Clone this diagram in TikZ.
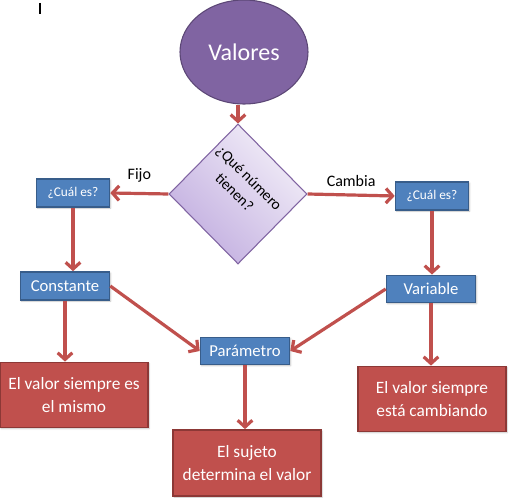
\documentclass[tikz,border=0pt]{standalone}
\usepackage{fontspec}
\setmainfont{Carlito}
\usepackage{xcolor}
\usetikzlibrary{shapes.geometric,arrows.meta,shadows.blur}
\definecolor{valfill}{HTML}{8064A2}
\definecolor{valline}{HTML}{5C4776}
\definecolor{dialight}{HTML}{F2EEF8}
\definecolor{diadark}{HTML}{C2AEE0}
\definecolor{bluefill}{HTML}{4F81BD}
\definecolor{blueline}{HTML}{385D8A}
\definecolor{redfill}{HTML}{C0504D}
\definecolor{redline}{HTML}{8C3836}
\tikzset{
	bluebox/.style={draw=blueline, fill=bluefill, line width=1.2pt, text=white, inner sep=0pt,
		blur shadow={shadow xshift=0.8pt, shadow yshift=-0.8pt, shadow opacity=25, shadow blur radius=1.2pt}},
	redbox/.style={draw=redline, fill=redfill, line width=1.3pt, text=white, inner sep=0pt,
		align=center, minimum width=111pt, minimum height=48.75pt,
		font=\fontsize{13}{17}\selectfont,
		blur shadow={shadow xshift=0.8pt, shadow yshift=-0.8pt, shadow opacity=25, shadow blur radius=1.2pt}},
	arr/.style={draw=redfill, line width=2.4pt, -{Straight Barb[length=5pt,width=11pt]}},
	tag/.style={font=\fontsize{12}{14}\selectfont, text=black}
}
\begin{document}
\begin{tikzpicture}[x=0.75pt,y=-0.75pt]
			\useasboundingbox (0,0) rectangle (511,498);
			\draw[line width=1.3pt] (40,3) -- (40,14);
			\node[ellipse, draw=valline, fill=valfill, line width=0.8pt, minimum width=96pt, minimum height=78pt,
				text=white, font=\fontsize{18}{20}\selectfont] (val) at (244,52) {Valores};
			\node[diamond, draw=valfill, line width=0.8pt, inner sep=0pt, minimum width=103.5pt, minimum height=105pt,
				top color=dialight, bottom color=diadark, shading angle=-45] (dia) at (238,194) {};
			\node[rotate=-45, align=center, font=\fontsize{11.5}{15.5}\selectfont] (pregunta)
				at ([shift={(4,-9)}]dia.center) {¿Qué número\\tienen?};
			\node[bluebox, minimum width=54.75pt, minimum height=21pt, font=\fontsize{10}{12}\selectfont] (cual1) at (73,193) {¿Cuál es?};
			\node[bluebox, minimum width=54.75pt, minimum height=21pt, font=\fontsize{10}{12}\selectfont] (cual2) at (432,196) {¿Cuál es?};
			\node[bluebox, minimum width=66.75pt, minimum height=21pt, font=\fontsize{12.5}{15}\selectfont] (const) at (65,286) {Constante};
			\node[bluebox, minimum width=66.75pt, minimum height=20.5pt, font=\fontsize{12.5}{15}\selectfont] (var) at (431,289) {Variable};
			\node[bluebox, minimum width=66.75pt, minimum height=20.5pt, font=\fontsize{12.5}{15}\selectfont] (param) at (245,351) {Parámetro};
			\node[redbox] (mismo) at (74,395) {El valor siempre es\\el mismo};
			\node[redbox] (cambiando) at (432,399) {El valor siempre\\está cambiando};
			\node[redbox, minimum height=49.5pt] (sujeto) at (247,463) {El sujeto\\determina el valor};
			% flechas
			\draw[arr] (val.south -| dia.north) -- (dia.north);
			\draw[arr] (dia.west) -- node[tag, above=4pt] {Fijo} (cual1.east);
			\draw[arr] (dia.east) -- node[tag, above=2pt] {Cambia} (cual2.west);
			\draw[arr] (cual1.south) -- (cual1.south |- const.north);
			\draw[arr] (cual2.south) -- (cual2.south |- var.north);
			\draw[arr] (const.south) -- (const.south |- mismo.north);
			\draw[arr] (var.south) -- (var.south |- cambiando.north);
			\draw[arr] (const.east) -- (param.west);
			\draw[arr] (var.west) -- (param.east);
			\draw[arr] (param.south) -- (param.south |- sujeto.north);
		\end{tikzpicture}
\end{document}
